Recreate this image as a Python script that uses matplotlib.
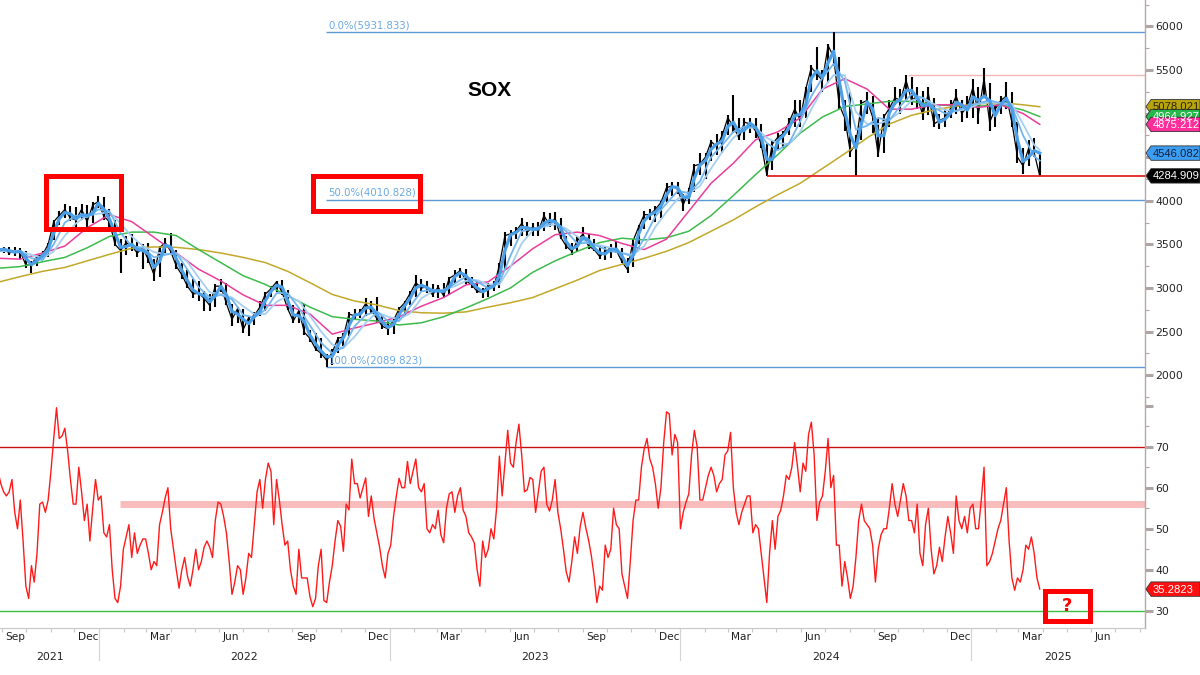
import datetime as dt
import numpy as np
import pandas as pd
import matplotlib
matplotlib.use("Agg")
import matplotlib.pyplot as plt
import matplotlib.dates as mdates
from matplotlib.patches import Rectangle, Polygon
from matplotlib.transforms import IdentityTransform, blended_transform_factory
from matplotlib.ticker import MultipleLocator, FixedLocator, FuncFormatter, NullLocator

# ---------------- data (weekly, Fridays) ----------------
first_week = "2021-08-27"
price_high = [
    3460, 3470, 3470, 3470, 3460, 3420, 3310, 3370, 3420, 3520,
    3780, 3880, 3960, 3940, 3930, 3960, 3950, 3980, 4050, 4040,
    3900, 3780, 3560, 3600, 3620, 3530, 3500, 3520, 3330, 3480,
    3570, 3630, 3430, 3280, 3200, 3100, 3080, 2960, 2930, 3040,
    3100, 3060, 2810, 2780, 2760, 2680, 2720, 2850, 2950, 3020,
    3080, 3090, 2980, 2800, 2760, 2820, 2520, 2480, 2420, 2240,
    2300, 2440, 2480, 2720, 2760, 2760, 2880, 2850, 2900, 2680,
    2620, 2640, 2780, 2850, 2960, 3150, 3100, 3080, 3050, 3030,
    3060, 3130, 3200, 3230, 3220, 3120, 3080, 3000, 3060, 3080,
    3280, 3640, 3660, 3700, 3800, 3760, 3740, 3760, 3870, 3860,
    3870, 3800, 3600, 3520, 3600, 3700, 3620, 3560, 3480, 3470,
    3500, 3540, 3460, 3340, 3560, 3720, 3880, 3900, 3940, 4000,
    4200, 4220, 4220, 4080, 4150, 4420, 4550, 4550, 4700, 4760,
    4800, 4980, 5210, 4950, 4950, 4950, 4950, 4880, 4650, 4700,
    4780, 4800, 4950, 5150, 5150, 5300, 5560, 5760, 5500, 5800,
    5932, 5650, 5150, 5250, 4750, 5150, 5250, 5200, 4950, 5000,
    5150, 5300, 5280, 5440, 5420, 5300, 5260, 5300, 5180, 5000,
    5050, 5150, 5280, 5150, 5200, 5400, 5300, 5520, 5350, 5100,
    5200, 5360, 5250, 4900, 4600, 4700, 4720, 4560]
price_low = [
    3380, 3400, 3380, 3370, 3330, 3230, 3170, 3250, 3320, 3350,
    3550, 3720, 3800, 3770, 3700, 3780, 3700, 3750, 3920, 3780,
    3700, 3480, 3170, 3380, 3420, 3350, 3220, 3280, 3080, 3130,
    3400, 3380, 3220, 3100, 3000, 2880, 2850, 2740, 2730, 2780,
    2950, 2800, 2560, 2600, 2480, 2450, 2580, 2680, 2740, 2900,
    2950, 2920, 2750, 2600, 2600, 2460, 2380, 2280, 2200, 2090,
    2120, 2250, 2330, 2450, 2640, 2660, 2680, 2700, 2600, 2530,
    2460, 2470, 2620, 2680, 2800, 2900, 2960, 2940, 2900, 2880,
    2900, 2920, 3060, 3110, 3050, 3000, 2940, 2880, 2900, 2960,
    3000, 3200, 3480, 3560, 3600, 3600, 3600, 3600, 3650, 3700,
    3660, 3560, 3450, 3380, 3420, 3550, 3450, 3420, 3330, 3320,
    3340, 3400, 3280, 3170, 3240, 3500, 3680, 3780, 3760, 3800,
    3980, 4050, 4080, 3880, 3960, 4100, 4300, 4250, 4450, 4520,
    4550, 4750, 4780, 4700, 4700, 4780, 4720, 4600, 4285, 4350,
    4580, 4600, 4750, 4850, 4850, 4950, 5250, 5380, 5250, 5350,
    5550, 5050, 4800, 4500, 4285, 4700, 5000, 4780, 4500, 4550,
    4850, 5100, 5000, 5150, 5100, 5050, 4920, 4980, 4850, 4820,
    4850, 4950, 5000, 4900, 4950, 4950, 4880, 5200, 4800, 4850,
    5000, 5050, 4850, 4430, 4310, 4400, 4500, 4285]
price_close = [
    3440, 3450, 3400, 3420, 3420, 3260, 3270, 3360, 3380, 3500,
    3760, 3830, 3900, 3800, 3780, 3900, 3760, 3950, 3990, 3820,
    3760, 3500, 3430, 3520, 3480, 3400, 3460, 3320, 3150, 3460,
    3520, 3420, 3250, 3150, 3020, 2930, 2940, 2880, 2800, 3020,
    3020, 2820, 2640, 2760, 2520, 2660, 2680, 2780, 2930, 2990,
    3070, 2950, 2760, 2620, 2740, 2490, 2420, 2300, 2250, 2170,
    2260, 2420, 2440, 2700, 2680, 2720, 2820, 2740, 2650, 2560,
    2530, 2630, 2760, 2830, 2940, 3060, 3000, 3010, 2920, 3010,
    2910, 3110, 3150, 3200, 3080, 3040, 2960, 2950, 3030, 3010,
    3260, 3600, 3620, 3650, 3740, 3640, 3700, 3650, 3830, 3720,
    3800, 3580, 3480, 3420, 3540, 3620, 3480, 3440, 3360, 3420,
    3460, 3430, 3300, 3210, 3540, 3700, 3840, 3840, 3900, 3980,
    4150, 4170, 4130, 3950, 4120, 4400, 4420, 4500, 4680, 4620,
    4750, 4950, 4850, 4720, 4900, 4880, 4800, 4650, 4300, 4650,
    4730, 4770, 4900, 5050, 4930, 5280, 5530, 5450, 5380, 5780,
    5650, 5100, 4950, 4560, 4650, 5120, 5150, 4960, 4530, 4960,
    5060, 5180, 5150, 5380, 5150, 5200, 4980, 5230, 4880, 4920,
    4950, 5060, 5200, 5000, 5080, 5300, 5000, 5400, 4900, 5050,
    5150, 5200, 4900, 4500, 4400, 4600, 4550, 4284.909]

# fast moving average (thick blue), weekly
ma_fast = [
    3430, 3445, 3425, 3410, 3420, 3340, 3265, 3315, 3370, 3440,
    3630, 3795, 3865, 3850, 3790, 3840, 3830, 3855, 3970, 3905,
    3790, 3630, 3465, 3475, 3500, 3440, 3430, 3390, 3235, 3305,
    3490, 3470, 3335, 3200, 3085, 2975, 2935, 2910, 2840, 2910,
    3020, 2920, 2730, 2700, 2640, 2590, 2670, 2730, 2855, 2960,
    3030, 3010, 2855, 2690, 2680, 2615, 2455, 2360, 2275, 2210,
    2215, 2340, 2430, 2570, 2690, 2700, 2770, 2780, 2695, 2605,
    2545, 2580, 2695, 2795, 2885, 3000, 3030, 3005, 2965, 2965,
    2960, 3010, 3130, 3175, 3140, 3060, 3000, 2955, 2990, 3020,
    3135, 3430, 3610, 3635, 3695, 3690, 3670, 3675, 3740, 3775,
    3760, 3690, 3530, 3450, 3480, 3580, 3550, 3460, 3400, 3390,
    3440, 3445, 3365, 3255, 3375, 3620, 3770, 3840, 3870, 3940,
    4065, 4160, 4150, 4040, 4035, 4260, 4410, 4460, 4590, 4650,
    4685, 4850, 4900, 4785, 4810, 4890, 4840, 4725, 4475, 4475,
    4690, 4750, 4835, 4975, 4990, 5105, 5405, 5490, 5415, 5580,
    5715, 5375, 5025, 4755, 4605, 4885, 5135, 5055, 4745, 4745,
    5010, 5120, 5165, 5265, 5265, 5175, 5090, 5105, 5055, 4900,
    4935, 5005, 5130, 5100, 5040, 5190, 5150, 5200, 5150, 4975,
    5100, 5175, 5050, 4700, 4450, 4500, 4575, 4546.082]

# two lighter blue averages, every second week (+ last week)
ma_mid1 = [
    3430, 3430, 3415, 3340, 3320, 3500, 3750, 3830, 3810, 3900,
    3880, 3630, 3480, 3460, 3350, 3380, 3400, 3210, 3010, 2890,
    2920, 2870, 2690, 2660, 2750, 2940, 2940, 2770, 2570, 2370,
    2250, 2320, 2560, 2690, 2730, 2620, 2620, 2790, 2960, 2980,
    2960, 3050, 3130, 3070, 3000, 3060, 3370, 3650, 3680, 3710,
    3760, 3650, 3510, 3520, 3470, 3420, 3400, 3360, 3570, 3820,
    3970, 4110, 4090, 4220, 4500, 4640, 4790, 4850, 4840, 4660,
    4580, 4660, 4910, 5200, 5410, 5570, 5370, 4815, 4860, 4950,
    4920, 5090, 5220, 5180, 5070, 5000, 5030, 5085, 5120, 5150,
    5120, 5080, 4750, 4510, 4460]
ma_mid2 = [
    3420, 3425, 3420, 3380, 3340, 3420, 3600, 3740, 3830, 3850,
    3870, 3740, 3590, 3480, 3410, 3390, 3390, 3300, 3120, 2950,
    2930, 2890, 2790, 2700, 2700, 2840, 2910, 2850, 2680, 2500,
    2350, 2310, 2440, 2600, 2720, 2670, 2640, 2710, 2880, 2960,
    2980, 3020, 3080, 3090, 3040, 3040, 3240, 3510, 3660, 3700,
    3730, 3680, 3590, 3510, 3490, 3460, 3400, 3380, 3480, 3700,
    3870, 4020, 4080, 4170, 4370, 4560, 4720, 4830, 4840, 4720,
    4660, 4650, 4790, 5050, 5280, 5440, 5440, 5020, 4880, 4880,
    4930, 5020, 5150, 5180, 5110, 5040, 5030, 5050, 5110, 5130,
    5120, 5110, 4880, 4640, 4580]

# slow averages, every fourth week (+ last week)
ma_50 = [
    3340, 3330, 3400, 3480, 3690, 3840, 3760, 3580, 3400, 3215,
    3080, 2920, 2800, 2800, 2700, 2470, 2540, 2600, 2670, 2790,
    2890, 3035, 3070, 3250, 3450, 3610, 3640, 3600, 3510, 3440,
    3560, 3880, 4200, 4430, 4700, 4790, 4950, 5280, 5400, 5280,
    5050, 5050, 5100, 5100, 5070, 5100, 5000, 4875.212]
ma_100 = [
    3225, 3245, 3300, 3350, 3460, 3590, 3640, 3640, 3600, 3440,
    3290, 3140, 3040, 2910, 2780, 2670, 2640, 2620, 2575, 2600,
    2670, 2770, 2880, 3000, 3180, 3310, 3420, 3520, 3570, 3550,
    3575, 3650, 3830, 4060, 4300, 4530, 4775, 4960, 5080, 5110,
    5140, 5140, 5100, 5090, 5085, 5100, 5040, 4964.927]
ma_200 = [
    3065, 3130, 3190, 3235, 3310, 3385, 3455, 3470, 3465, 3440,
    3400, 3350, 3290, 3190, 3060, 2925, 2850, 2805, 2740, 2715,
    2710, 2725, 2780, 2830, 2890, 2990, 3090, 3200, 3270, 3340,
    3420, 3520, 3650, 3780, 3930, 4070, 4200, 4370, 4540, 4720,
    4880, 4980, 5040, 5085, 5110, 5125, 5100, 5078.021]

# RSI, two readings per week (every 3.5 days from first_week)
rsi = [
    64, 61, 59, 58, 59, 62, 54, 50, 57, 47,
    36, 33, 41, 37, 44, 56, 56.5, 54, 57, 64,
    72, 79.5, 72, 72.6, 74.5, 69, 62, 56, 56, 65,
    59, 52, 56, 47, 55, 62, 57, 58, 49, 48,
    51, 40, 33, 32, 36, 45, 48, 51, 43, 49,
    44, 46, 47.5, 47.5, 44, 40, 42, 41, 51, 54,
    57.5, 60, 50, 45, 40, 35.5, 40, 43, 38.5, 36,
    40, 45, 40, 42, 45.5, 47, 45.5, 43, 52, 56.5,
    56, 53, 49, 42, 34, 37, 41, 40, 34, 38,
    44, 43, 51, 59, 62, 55, 62, 66, 64, 51,
    62, 57, 51, 46, 47, 40, 36, 34, 45, 38,
    38, 38, 33.4, 31, 33, 41, 45, 32.5, 32, 37,
    41, 47, 52, 50.6, 44.5, 56, 54.6, 67, 61, 61,
    57.5, 60, 62.4, 53, 58, 52.5, 49, 45.5, 41, 38,
    44, 46, 53, 58, 62.3, 60, 60, 66.4, 61, 64,
    67, 60, 59, 61, 50, 49, 51, 50, 54.5, 48.5,
    46.6, 55, 58.5, 59, 54, 58, 60, 54.5, 53, 49,
    48, 46.5, 40, 36, 47, 43, 45, 50, 47.5, 55,
    67.7, 58, 66, 74, 66, 65, 71, 75.5, 68, 59,
    59.5, 62.5, 62, 54, 59, 64, 65, 56, 54.3, 57,
    62, 54, 50, 45, 39.5, 37, 42, 48, 44, 50.5,
    54, 50.3, 47.3, 43.5, 38.5, 32, 36, 35, 46, 43,
    45, 55, 51, 50, 39, 36, 33, 42, 52, 57,
    57, 65, 69.5, 72, 67, 65, 61, 55, 60, 71,
    78.5, 78, 68, 73, 71, 50, 54, 56.5, 58.5, 68,
    74, 70, 57, 57, 60, 63, 65, 63, 59, 61,
    62, 68, 69, 73.5, 60, 54, 51, 54, 56, 58,
    58, 49, 51, 50, 44, 38, 32, 44, 52, 45,
    53, 54.5, 58, 63, 62, 65, 71, 65.3, 59, 66,
    64, 73, 76, 68, 52, 56.5, 58, 64, 72, 60,
    63, 46, 46, 36, 42, 38, 33, 36, 43, 52,
    56, 52, 51, 50, 46, 37, 45, 48.5, 50, 50,
    55, 61, 56, 53, 57, 61, 58, 52, 52, 49,
    56, 44, 41, 51, 55, 45, 39, 41, 45.5, 42,
    48, 53, 49, 44, 58, 52, 50, 53, 49, 55,
    56, 50, 50, 57, 65, 41, 42, 44, 47, 50,
    52, 56, 60, 47, 38, 35, 38, 37, 40, 46,
    45, 48, 44, 38, 35.2823]

fib_levels = [5931.833, 4010.828, 2089.823]
fib_labels = ["0.0%", "50.0%", "100.0%"]
fib_start = "2022-10-13"
support_level = 4284.909
support_start = "2024-04-19"
resist_level = 5441
resist_start = "2024-10-14"
rsi_upper, rsi_lower, rsi_mid = 70, 30, 56
rsi_mid_start = "2022-01-27"

# ---------------- figure ----------------
W, H = 1200, 675
fig = plt.figure(figsize=(W / 100, H / 100), dpi=100)
fig.patch.set_facecolor("white")
AXR = 1145
ax = fig.add_axes([0, 1 - 402 / H, AXR / W, 402 / H])
axr = fig.add_axes([0, 47 / H, AXR / W, (628 - 402) / H], sharex=ax)

n = len(price_close)
dates = pd.date_range(first_week, periods=n, freq="7D")
d2 = list(dates[0::2]) + [dates[-1]]
d4 = list(dates[0::4]) + [dates[-1]]
rsi_dates = pd.date_range(first_week, periods=len(rsi), freq="84h")
num = lambda d: mdates.date2num(pd.Timestamp(d))

x0 = dt.datetime(2021, 8, 29, 12)
x1 = dt.datetime(2025, 8, 7, 6)
ax.set_xlim(num(x0), num(x1))
ax.set_ylim(1691.5, 6302)
axr.set_ylim(25.8, 80.9)

# price bars
ax.vlines(dates, price_low, price_high, color="black", lw=1.5, zorder=2)
ax.plot(dates, price_close, color="black", lw=0.9, zorder=2)

# moving averages
ax.plot(d4, ma_200, color="#c2a82a", lw=1.1, zorder=3)
ax.plot(d4, ma_100, color="#3dbb4c", lw=1.1, zorder=3)
ax.plot(d4, ma_50, color="#ea3d9c", lw=1.1, zorder=3)
ax.plot(d2, ma_mid2, color="#a5cff2", lw=1.3, zorder=4)
ax.plot(d2, ma_mid1, color="#74b6ee", lw=1.3, zorder=4)
ax.plot(dates, ma_fast, color="#4a9fe8", lw=2.3, zorder=5)

# fibonacci levels
fs = num(fib_start)
ax.hlines(fib_levels, fs, num(x1), color="#5b9bd5", lw=1.0, zorder=1)
for lab, lv in zip(fib_labels, fib_levels):
    ax.annotate(f"{lab}({lv:.3f})", xy=(fs, lv), xytext=(2, 1.5),
                textcoords="offset points", fontsize=7.3, color="#6aa9e4",
                ha="left", va="bottom", zorder=6)

ax.hlines(support_level, num(support_start), num(x1), color="#e02424", lw=1.3, zorder=4)
ax.hlines(resist_level, num(resist_start), num(x1), color="#f3b6b6", lw=1.0, zorder=1)

# RSI panel
axr.hlines(rsi_mid, num(rsi_mid_start), num(x1), color="#f8bcbc", lw=5, zorder=1)
axr.axhline(rsi_upper, color="#c81010", lw=1.0, zorder=1)
axr.axhline(rsi_lower, color="#3cc03c", lw=1.0, zorder=1)
axr.plot(rsi_dates, rsi, color="#ff1a1a", lw=1.0, zorder=3)

# ---------------- axes styling ----------------
for a in (ax, axr):
    for s in ("left", "top", "bottom"):
        a.spines[s].set_visible(False)
    a.spines["right"].set_color("#b4a8a8")
    a.spines["right"].set_linewidth(1.0)
    a.yaxis.tick_right()
    a.tick_params(axis="y", which="major", length=6, width=2.2, color="#b0a4a4",
                  labelsize=7.8, labelcolor="#222222", pad=1.5, direction="out")
    a.tick_params(axis="y", which="minor", length=3, width=0.8, color="#b0a4a4", direction="out")
    a.set_facecolor("white")

ax.yaxis.set_major_locator(MultipleLocator(500))
ax.yaxis.set_minor_locator(MultipleLocator(250))
# 4500 and 5000 sit behind the value tags
ax.yaxis.set_major_formatter(FuncFormatter(lambda v, p: "" if v in (4500, 5000) else f"{v:.0f}"))
ax.tick_params(axis="x", which="both", bottom=False, labelbottom=False)

axr.yaxis.set_major_locator(FixedLocator([30, 40, 50, 60, 70, 80]))
axr.yaxis.set_minor_locator(MultipleLocator(5))
axr.yaxis.set_major_formatter(FuncFormatter(lambda v, p: "" if v > 75 else f"{v:.0f}"))

axr.spines["bottom"].set_visible(True)
axr.spines["bottom"].set_color("#c8c8c8")
axr.xaxis.set_major_locator(NullLocator())
axr.xaxis.set_minor_locator(mdates.MonthLocator())
axr.tick_params(axis="x", which="minor", length=3, width=0.8, color="#c8c8c8", direction="out")

blend = blended_transform_factory(axr.transData, axr.transAxes)
mnames = {3: "Mar", 6: "Jun", 9: "Sep", 12: "Dec"}
for m in pd.date_range("2021-09-01", "2025-07-01", freq="MS"):
    if m.month in mnames:
        axr.annotate(mnames[m.month], xy=(num(m), 0), xycoords=blend, xytext=(2.5, -3),
                     textcoords="offset points", ha="left", va="top",
                     fontsize=7.6, color="#222222")
years = [2021, 2022, 2023, 2024, 2025]
for yr in years:
    left = max(num(x0), num(f"{yr}-01-01"))
    right = min(num(x1), num(f"{yr + 1}-01-01"))
    mid = (left + right) / 2
    axr.annotate(str(yr), xy=(mid, 0), xycoords=blend, xytext=(0, -17),
                 textcoords="offset points", ha="center", va="top",
                 fontsize=7.8, color="#222222")
    if yr > 2021:
        b = num(f"{yr}-01-01")
        axr.plot([b, b], [0, -0.14], transform=blend, clip_on=False,
                 color="#d4d4d4", lw=0.8)

# ---------------- value tags on right axis ----------------
def tag(a, value, text, bg, fg):
    yd = a.transData.transform((num(x0), value))[1]
    h = 7.2
    pts = [(1146, yd), (1151, yd + h), (1200, yd + h), (1200, yd - h), (1151, yd - h)]
    p = Polygon(pts, closed=True, transform=IdentityTransform(), facecolor=bg,
                edgecolor="#333333", lw=0.6, zorder=20)
    fig.add_artist(p)
    fig.text(1153 / W, (yd - 0.5) / H, text, ha="left", va="center", fontsize=8.1,
             color=fg, zorder=21, family="Liberation Sans")

tag(ax, ma_200[-1], f"{ma_200[-1]:.3f}", "#b8a40c", "#2a2400")
tag(ax, ma_100[-1], f"{ma_100[-1]:.3f}", "#25b84a", "white")
tag(ax, ma_50[-1], f"{ma_50[-1]:.3f}", "#ff2e98", "white")
tag(ax, ma_fast[-1], f"{ma_fast[-1]:.3f}", "#3d9df0", "#10203a")
tag(ax, price_close[-1], f"{price_close[-1]:.3f}", "#000000", "white")
tag(axr, rsi[-1], f"{rsi[-1]:.4f}", "#ff1010", "white")

# ---------------- annotations ----------------
def box(a, d_start, d_end, y_lo, y_hi, lw=3.6):
    xs = num(d_start)
    xe = num(d_end)
    r = Rectangle((xs, y_lo), xe - xs, y_hi - y_lo, fill=False, edgecolor="#ff0000",
                  lw=lw, zorder=10, clip_on=False)
    a.add_patch(r)
    return xs, xe

box(ax, "2021-10-26", "2022-01-28", 3675, 4282)
box(ax, "2022-09-27", "2023-02-08", 3880, 4282)
xs, xe = box(axr, "2025-04-03", "2025-05-30", 27.5, 34.8)
axr.text((xs + xe) / 2, (27.5 + 34.8) / 2, "?", color="#ff0000", fontsize=13,
         fontweight="bold", ha="center", va="center", zorder=11)

fig.text(489 / W, 1 - 90 / H, "SOX", ha="center", va="center", fontsize=15,
         fontweight="bold", color="black", family="Liberation Sans")

fig.savefig("out.png", dpi=100, facecolor="white")
